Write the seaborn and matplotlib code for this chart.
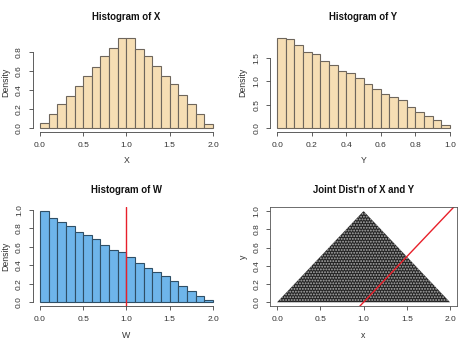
import numpy as np
import pandas as pd
import matplotlib
matplotlib.use("Agg")
import matplotlib.pyplot as plt
import seaborn as sns

sns.set_style("white")
plt.rcParams['font.family'] = ['Liberation Sans', 'DejaVu Sans']
plt.rcParams['hatch.linewidth'] = 0.9

# ---- data ----
x_edges = [round(0.1 * i, 2) for i in range(21)]
x_density = [0.052, 0.146, 0.25, 0.337, 0.438, 0.55, 0.64, 0.755, 0.845, 0.946,
             0.953, 0.835, 0.755, 0.657, 0.55, 0.466, 0.351, 0.25, 0.143, 0.042]

y_edges = [round(0.05 * i, 2) for i in range(21)]
y_density = [1.937, 1.908, 1.775, 1.634, 1.585, 1.444, 1.359, 1.232, 1.176, 1.077,
             0.951, 0.845, 0.718, 0.669, 0.592, 0.444, 0.345, 0.254, 0.162, 0.056]

w_edges = [round(0.1 * i, 2) for i in range(21)]
w_density = [0.986, 0.906, 0.863, 0.82, 0.755, 0.727, 0.68, 0.622, 0.561, 0.54,
             0.486, 0.428, 0.374, 0.331, 0.281, 0.227, 0.173, 0.119, 0.065, 0.025]

# support of joint distribution (triangle corners)
tri_x = [0.0, 1.0, 2.0]
tri_y = [0.0, 1.0, 0.0]
# red reference lines
w_vline = 1.0
line_x = [0.9, 2.2]
line_y = [-0.1, 1.2]

x_ticks = [0.0, 0.5, 1.0, 1.5, 2.0]
y_ticks_Y = [0.0, 0.2, 0.4, 0.6, 0.8, 1.0]

TICK_FS = 6.0
LAB_FS = 6.3
TITLE_FS = 6.9

fig = plt.figure(figsize=(4.74, 3.48), dpi=100)
L = [0.0696, 0.464]
R = [0.570, 0.964]
TOP = [0.622, 0.902]
BOT = [0.121, 0.404]
ax1 = fig.add_axes([L[0], TOP[0], L[1] - L[0], TOP[1] - TOP[0]])
ax2 = fig.add_axes([R[0], TOP[0], R[1] - R[0], TOP[1] - TOP[0]])
ax3 = fig.add_axes([L[0], BOT[0], L[1] - L[0], BOT[1] - BOT[0]])
ax4 = fig.add_axes([R[0], BOT[0], R[1] - R[0], BOT[1] - BOT[0]])


def r_hist(ax, edges, dens, color, ecolor, title, xlabel, xticks, yticks):
    centers = [(edges[i] + edges[i + 1]) / 2 for i in range(len(dens))]
    df = pd.DataFrame({"v": centers, "d": dens})
    sns.histplot(data=df, x="v", weights="d", bins=edges, stat="count",
                 color=color, edgecolor=ecolor, linewidth=0.8, alpha=1.0, ax=ax)
    lo, hi = edges[0], edges[-1]
    ext = (hi - lo) * 0.04
    ax.set_xlim(lo - ext, hi + ext)
    ymax = max(dens)
    ax.set_ylim(-0.04 * ymax, 1.04 * ymax)
    style_axes(ax, title, xlabel, "Density", xticks, yticks, box=False)


def style_axes(ax, title, xlabel, ylabel, xticks, yticks, box):
    ax.set_xticks(xticks)
    ax.set_yticks(yticks)
    ax.set_xticklabels([f"{t:.1f}" for t in xticks], fontsize=TICK_FS)
    ax.set_yticklabels([f"{t:.1f}" for t in yticks], fontsize=TICK_FS,
                       rotation=90, va="center")
    ax.tick_params(axis="both", direction="out", length=3, width=0.6,
                   color="#444444", labelcolor="#333333", pad=4.2,
                   bottom=True, left=True)
    for s in ["top", "right", "left", "bottom"]:
        ax.spines[s].set_linewidth(0.6)
        ax.spines[s].set_color("#444444")
    if not box:
        ax.spines["top"].set_visible(False)
        ax.spines["right"].set_visible(False)
        ax.spines["bottom"].set_bounds(xticks[0], xticks[-1])
        ax.spines["left"].set_bounds(yticks[0], yticks[-1])
    ax.set_xlabel(xlabel, fontsize=LAB_FS, color="#333333")
    ax.set_ylabel(ylabel, fontsize=LAB_FS, color="#333333")
    ax.xaxis.label.set_verticalalignment("center")
    ax.yaxis.label.set_verticalalignment("center")
    ax.xaxis.set_label_coords(0.5, -0.30)
    ax.yaxis.set_label_coords(-0.145, 0.5)
    ax.text(0.5, 1.175, title, transform=ax.transAxes, ha="center", va="center",
            fontsize=TITLE_FS, fontweight="bold", color="#111111")
    ax.grid(False)


r_hist(ax1, x_edges, x_density, "#F6DEB4", "#6e665c", "Histogram of X", "X",
       x_ticks, [0.0, 0.2, 0.4, 0.6, 0.8])
r_hist(ax2, y_edges, y_density, "#F6DEB4", "#6e665c", "Histogram of Y", "Y",
       y_ticks_Y, [0.0, 0.5, 1.0, 1.5])
r_hist(ax3, w_edges, w_density, "#6EB5EA", "#2f4f66", "Histogram of W", "W",
       x_ticks, [0.0, 0.2, 0.4, 0.6, 0.8, 1.0])
ax3.axvline(w_vline, color="#E8202A", linewidth=1.0)

# Joint distribution panel
ax4.fill(tri_x, tri_y, facecolor="#242424", edgecolor="#b0b0b0",
         hatch="......", linewidth=0)
sns.lineplot(x=line_x, y=line_y, color="#E8202A", linewidth=1.0, ax=ax4,
             sort=False, estimator=None)
ax4.set_xlim(-0.08, 2.08)
ax4.set_ylim(-0.04, 1.04)
style_axes(ax4, "Joint Dist'n of X and Y", "x", "y", x_ticks, y_ticks_Y, box=True)
for s in ["top", "right", "left", "bottom"]:
    ax4.spines[s].set_color("#555555")

fig.savefig("out.png", dpi=100)
